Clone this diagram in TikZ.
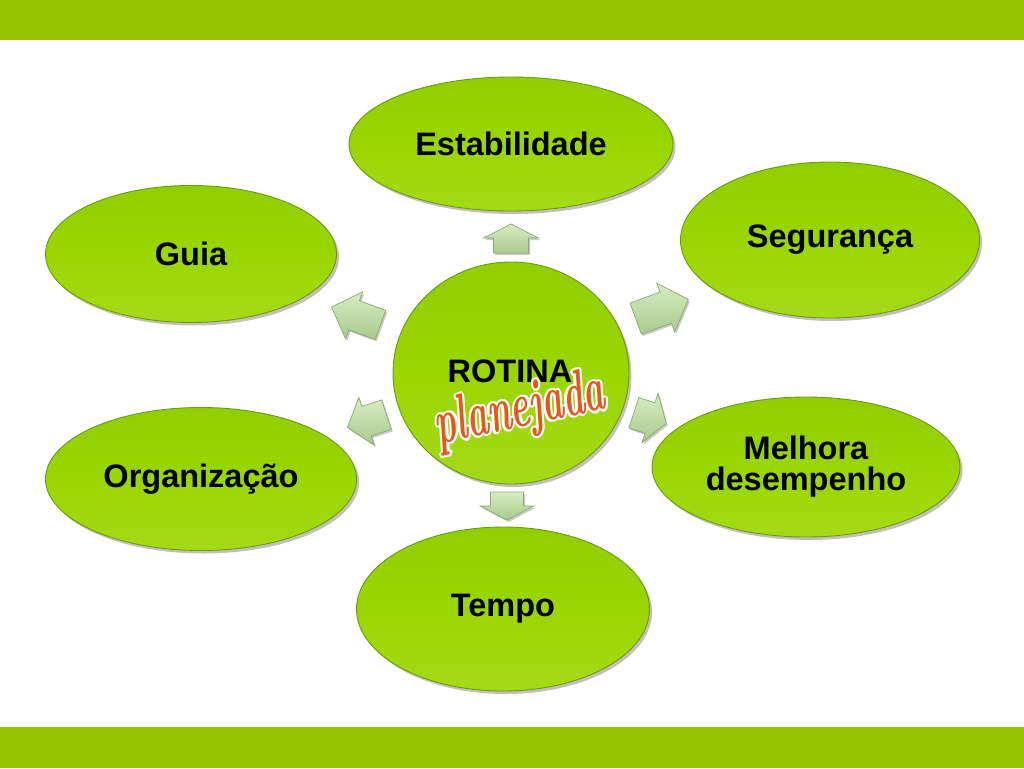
\documentclass[tikz,border=0pt]{standalone}
\usepackage{fontspec}
\newfontfamily\lsans{Liberation Sans}
\usetikzlibrary{shapes.geometric,shadows}
\definecolor{bar}{HTML}{95C300}
\definecolor{limeA}{HTML}{90CE00}
\definecolor{limeB}{HTML}{9AD600}
\definecolor{limeC}{HTML}{A4DA18}
\definecolor{limeEdge}{HTML}{6E9A0E}
\definecolor{arrA}{HTML}{D6ECC2}
\definecolor{arrB}{HTML}{A8CB8C}
\definecolor{arrEdge}{HTML}{8AAA72}
\definecolor{orng}{HTML}{E4581C}
\tikzset{
  ell/.style={ellipse, inner sep=0pt, top color=limeA, bottom color=limeC, middle color=limeB,
    draw=limeEdge, line width=0.9pt,
    drop shadow={opacity=0.35, shadow xshift=2.5pt, shadow yshift=-3pt, fill=black!70},
    font=\lsans\bfseries\fontsize{32.5}{34}\selectfont, text=black, align=center},
  blkarr/.style={top color=arrA, bottom color=arrB, draw=arrEdge, line width=0.7pt,
    drop shadow={opacity=0.3, shadow xshift=1.5pt, shadow yshift=-2pt, fill=black!70}},
  scr/.style={font=\fontsize{40}{40}\selectfont\bfseries\itshape, inner sep=0pt}
}
% cx cy angle length headwidth shaftwidth headlength
\newcommand\blkarrow[7]{%
  \begin{scope}[shift={(#1,#2)},rotate=#3]
    \path[blkarr] ({-#4/2},{-#6/2}) -- ({#4/2-#7},{-#6/2}) -- ({#4/2-#7},{-#5/2}) -- ({#4/2},0)
      -- ({#4/2-#7},{#5/2}) -- ({#4/2-#7},{#6/2}) -- ({-#4/2},{#6/2}) -- cycle;
  \end{scope}}
\begin{document}
\begin{tikzpicture}[x=1pt,y=-1pt]
\useasboundingbox (0,0) rectangle (1024,768);
\fill[white] (0,0) rectangle (1024,768);
\fill[bar] (0,0) rectangle (1024,40);
\fill[bar] (0,727) rectangle (1024,768);

% outer nodes
\node[ell, minimum width=324pt, minimum height=134pt] (est) at (511,144) {Estabilidade};
\node[ell, minimum width=299pt, minimum height=156pt] (seg) at (830,240) {Segurança};
\node[ell, minimum width=291pt, minimum height=137pt] (gui) at (191,254) {Guia};
\node[ell, minimum width=311pt, minimum height=143pt] (org) at (201,479) {Organização};
\node[ell, minimum width=308pt, minimum height=140pt] (mel) at (806,467) {Melhora\\[-3pt]desempenho};
\node[ell, minimum width=293pt, minimum height=164pt] (tem) at (503,609) {Tempo};

% center
\node[ell, minimum width=236pt, minimum height=222pt] (rot) at (511,373) {};
\node[font=\lsans\bfseries\fontsize{32.5}{34}\selectfont, inner sep=0pt] (rottxt) at (510,371) {ROTINA};

% script word with white outline
\begin{scope}[shift={(520,411)},rotate=12,transform shape]
  \foreach \a in {0,45,...,359} {
    \node[scr, text=white] at ({2.2*cos(\a)},{2.2*sin(\a)}) {\scalebox{0.9}[1.6]{planejada}};
  }
  \node[scr, text=orng] (pla) at (0,0) {\scalebox{0.9}[1.6]{planejada}};
\end{scope}

% block arrows
\blkarrow{511}{238.5}{90}{29}{55}{35}{14}
\blkarrow{507}{506}{-90}{28}{53}{33}{14}
\blkarrow{356}{316}{160}{52}{50}{31}{24}
\blkarrow{662}{309}{20}{56}{52}{33}{24}
\blkarrow{367}{421}{198}{41}{50}{31}{20}
\blkarrow{650}{418}{-18}{34}{52}{32}{17}
\end{tikzpicture}
\end{document}
